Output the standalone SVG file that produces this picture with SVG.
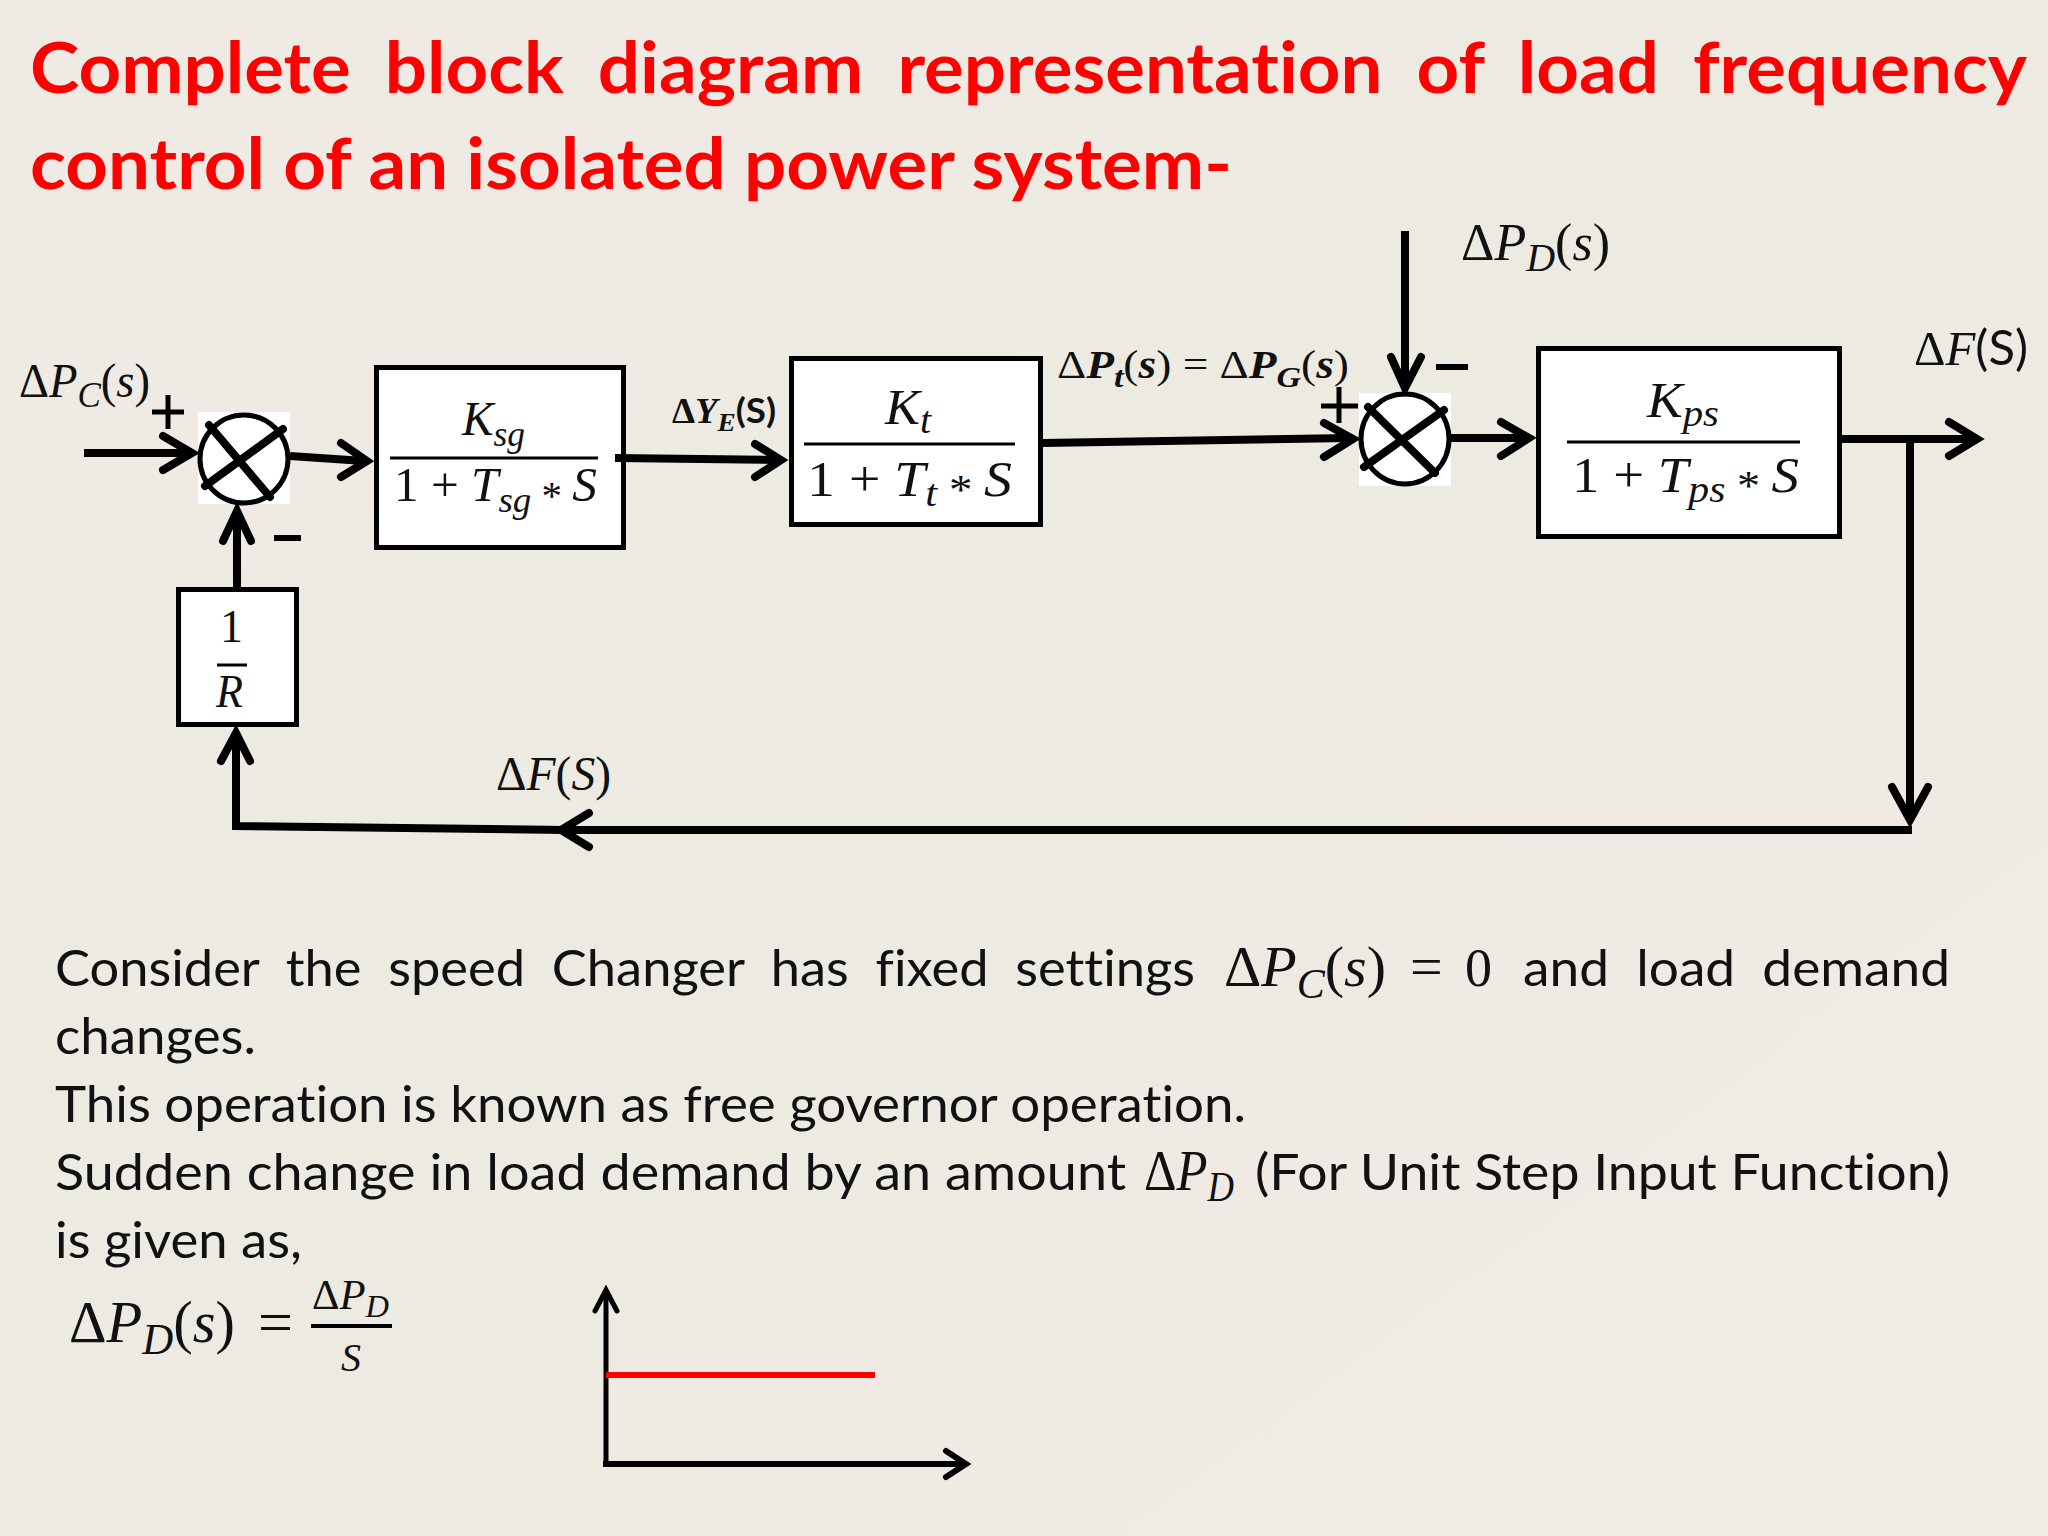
<svg xmlns="http://www.w3.org/2000/svg" width="2048" height="1536" viewBox="0 0 2048 1536">
<defs>
<linearGradient id="bg" x1="0" y1="0" x2="1" y2="1"><stop offset="0" stop-color="#efebe4"/><stop offset="0.5" stop-color="#edeae2"/><stop offset="1" stop-color="#f1ebe5"/></linearGradient>
</defs>
<style>
text{font-variant-ligatures:none}
.title{font-family:"Lato","Liberation Sans",sans-serif;font-weight:700;font-size:70px;fill:#fe0000}
.body{font-family:"Lato","Liberation Sans",sans-serif;font-size:51px;fill:#111}
.m{font-family:"Liberation Serif",serif;font-style:italic;fill:#111}
.mb{font-weight:700}
.up{font-style:normal}
.box{fill:#fff;stroke:#000;stroke-width:5}
.bar{stroke:#000;stroke-width:3;fill:none}
.sumbg{fill:#fff}
.sum{fill:none;stroke:#000;stroke-width:5}
.x{stroke:#000;stroke-width:8;stroke-linecap:round}
.w{fill:none;stroke:#000;stroke-width:8;stroke-linejoin:miter}
.h{fill:none;stroke:#000;stroke-width:8;stroke-linecap:round;stroke-linejoin:miter}
.sign{stroke:#000;stroke-width:5;fill:none}
</style>
<rect id="background" width="2048" height="1536" fill="url(#bg)"/>
<g id="title">
<text class="title" x="30" y="93" word-spacing="15" textLength="1997" lengthAdjust="spacingAndGlyphs">Complete block diagram representation of load frequency</text>
<text class="title" x="30" y="189" textLength="1202" lengthAdjust="spacingAndGlyphs">control of an isolated power system-</text>
</g>
<g id="node-sum1">
<rect class="sumbg" x="198" y="412" width="92" height="92"/>
<ellipse class="sum" cx="244" cy="459" rx="44" ry="44"/>
<line class="x" x1="209" y1="425" x2="270" y2="497"/><line class="x" x1="283" y1="429" x2="205" y2="486"/>
</g>
<g id="node-governor">
<rect class="box" x="376.5" y="367.5" width="247" height="180"/>
<text class="m" font-size="48" x="462" y="435" textLength="63" lengthAdjust="spacingAndGlyphs">K<tspan font-size="36" dy="11">sg</tspan></text>
<line class="bar" x1="390" y1="458" x2="598" y2="458"/>
<text class="m" font-size="48" x="394" y="501" textLength="203" lengthAdjust="spacingAndGlyphs"><tspan class="up">1 + </tspan>T<tspan font-size="36" dy="11">sg</tspan><tspan class="up" dy="-3" font-size="40"> * </tspan><tspan dy="-8">S</tspan></text>
</g>
<g id="node-turbine">
<rect class="box" x="791.5" y="358.5" width="249" height="166"/>
<text class="m" font-size="50" x="885" y="424" textLength="46" lengthAdjust="spacingAndGlyphs">K<tspan font-size="38" dy="9">t</tspan></text>
<line class="bar" x1="804" y1="444" x2="1015" y2="444"/>
<text class="m" font-size="50" x="807" y="496" textLength="205" lengthAdjust="spacingAndGlyphs"><tspan class="up">1 + </tspan>T<tspan font-size="38" dy="10">t</tspan><tspan class="up" dy="-2" font-size="42"> * </tspan><tspan dy="-8">S</tspan></text>
</g>
<g id="node-sum2">
<rect class="sumbg" x="1359" y="393" width="92" height="93"/>
<ellipse class="sum" cx="1405" cy="439" rx="44" ry="45"/>
<line class="x" x1="1368" y1="407" x2="1435" y2="473"/><line class="x" x1="1364" y1="467" x2="1444" y2="410"/>
</g>
<g id="node-power-system">
<rect class="box" x="1538.5" y="348.5" width="301" height="188"/>
<text class="m" font-size="50" x="1647" y="417" textLength="72" lengthAdjust="spacingAndGlyphs">K<tspan font-size="38" dy="9">ps</tspan></text>
<line class="bar" x1="1567" y1="442" x2="1800" y2="442"/>
<text class="m" font-size="50" x="1572" y="492" textLength="227" lengthAdjust="spacingAndGlyphs"><tspan class="up">1 + </tspan>T<tspan font-size="38" dy="10">ps</tspan><tspan class="up" dy="-2" font-size="42"> * </tspan><tspan dy="-8">S</tspan></text>
</g>
<g id="node-droop">
<rect class="box" x="178.5" y="589.5" width="118" height="135"/>
<text class="m up" font-size="46" x="220" y="642">1</text>
<line class="bar" x1="217" y1="665" x2="247" y2="665"/>
<text class="m" font-size="46" x="216" y="707" textLength="27" lengthAdjust="spacingAndGlyphs">R</text>
</g>
<g id="connectors">
<path class="w" d="M84 453H190"/><path class="h" d="M163 436L192 453L163 470"/>
<path class="w" d="M290 456L364 461"/><path class="h" d="M341 443L367 461L341 477"/>
<path class="w" d="M615 458L778 460"/><path class="h" d="M755 444L781 460L755 477"/>
<path class="w" d="M1043 443L1350 438"/><path class="h" d="M1324 423L1353 439L1324 457"/>
<path class="w" d="M1405 231V385"/><path class="h" d="M1391 357L1405 388L1421 357"/>
<path class="w" d="M1451 438H1526"/><path class="h" d="M1501 422L1529 438L1501 456"/>
<path class="w" d="M1842 439H1975"/><path class="h" d="M1949 422L1977 439L1949 456"/>
<path class="w" d="M1910 439V817"/><path class="h" d="M1892 787L1910 820L1928 787"/>
<path class="w" d="M1912 830H565"/><path class="h" d="M589 813L561 830L589 847"/>
<path class="w" d="M565 830L236 826V737"/><path class="h" d="M221 761L236 733L250 761"/>
<path class="w" d="M237 587V516"/><path class="h" d="M223 541L237 511L251 541"/>
</g>
<g id="labels">
<text class="m" font-size="48" x="19" y="397" textLength="131" lengthAdjust="spacingAndGlyphs"><tspan class="up">Δ</tspan>P<tspan font-size="36" dy="10">C</tspan><tspan class="up" dy="-10">(</tspan>s<tspan class="up">)</tspan></text>
<path class="sign" d="M152 412H184M168 395V429"/>
<path class="sign" style="stroke-width:6" d="M274 538H301"/>
<text class="m mb" font-size="35" x="672" y="423" textLength="104" lengthAdjust="spacingAndGlyphs"><tspan class="up">Δ</tspan>Y<tspan font-size="26" dy="8">E</tspan><tspan class="up" dy="-8" style="font-family:'Lato',sans-serif">(S)</tspan></text>
<text class="m" font-size="40" x="1057" y="378" textLength="292" lengthAdjust="spacingAndGlyphs"><tspan class="up">Δ</tspan><tspan class="mb">P</tspan><tspan class="mb" font-size="30" dy="9">t</tspan><tspan class="up" dy="-9">(</tspan><tspan class="mb">s</tspan><tspan class="up">) = Δ</tspan><tspan class="mb">P</tspan><tspan class="mb" font-size="30" dy="9">G</tspan><tspan class="up" dy="-9">(</tspan><tspan class="mb">s</tspan><tspan class="up">)</tspan></text>
<text class="m" font-size="52" x="1461" y="260" textLength="149" lengthAdjust="spacingAndGlyphs"><tspan class="up">Δ</tspan>P<tspan font-size="40" dy="11">D</tspan><tspan class="up" dy="-11">(</tspan>s<tspan class="up">)</tspan></text>
<path class="sign" style="stroke-width:6" d="M1436 367H1468"/>
<path class="sign" d="M1321 406H1358M1339 387V423"/>
<text class="m" font-size="48" x="1914" y="365" textLength="114" lengthAdjust="spacingAndGlyphs"><tspan class="up">Δ</tspan>F<tspan class="up" style="font-family:'Lato',sans-serif">(S)</tspan></text>
<text class="m" font-size="48" x="496" y="790" textLength="115" lengthAdjust="spacingAndGlyphs"><tspan class="up">Δ</tspan>F<tspan class="up">(</tspan>S<tspan class="up">)</tspan></text>
</g>
<g id="text-block">
<text class="body" x="55" y="986" word-spacing="13" textLength="1140" lengthAdjust="spacingAndGlyphs">Consider the speed Changer has fixed settings</text>
<text class="m" font-size="58" x="1224" y="986" textLength="162" lengthAdjust="spacingAndGlyphs"><tspan class="up">Δ</tspan>P<tspan font-size="42" dy="12">C</tspan><tspan class="up" dy="-12">(</tspan>s<tspan class="up">)</tspan></text>
<text class="m up" font-size="58" x="1410" y="986">=</text>
<text class="m up" font-size="54" x="1465" y="986">0</text>
<text class="body" x="1523" y="986" word-spacing="13" textLength="427" lengthAdjust="spacingAndGlyphs">and load demand</text>
<text class="body" x="55" y="1054" textLength="201" lengthAdjust="spacingAndGlyphs">changes.</text>
<text class="body" x="55" y="1122" textLength="1191" lengthAdjust="spacingAndGlyphs">This operation is known as free governor operation.</text>
<text class="body" x="55" y="1190" textLength="1071" lengthAdjust="spacingAndGlyphs">Sudden change in load demand by an amount</text>
<text class="m" font-size="58" x="1144" y="1190" textLength="90" lengthAdjust="spacingAndGlyphs"><tspan class="up">Δ</tspan>P<tspan font-size="42" dy="11">D</tspan></text>
<text class="body" x="1255" y="1190" textLength="695" lengthAdjust="spacingAndGlyphs">(For Unit Step Input Function)</text>
<text class="body" x="55" y="1258" textLength="247" lengthAdjust="spacingAndGlyphs">is given as,</text>
</g>
<g id="equation">
<text class="m" font-size="60" x="69" y="1342" textLength="166" lengthAdjust="spacingAndGlyphs"><tspan class="up">Δ</tspan>P<tspan font-size="44" dy="12">D</tspan><tspan class="up" dy="-12">(</tspan>s<tspan class="up">)</tspan></text>
<text class="m up" font-size="60" x="258" y="1342" textLength="35" lengthAdjust="spacingAndGlyphs">=</text>
<text class="m" font-size="42" x="312" y="1309" textLength="77" lengthAdjust="spacingAndGlyphs"><tspan class="up">Δ</tspan>P<tspan font-size="32" dy="8">D</tspan></text>
<line class="bar" style="stroke-width:4" x1="311" y1="1326" x2="392" y2="1326"/>
<text class="m" font-size="40" x="341" y="1371">S</text>
</g>
<g id="step-plot">
<path fill="none" stroke="#000" stroke-width="5" d="M606 1467V1294"/>
<path class="h" style="stroke-width:5" d="M595 1311L606 1290L617 1311"/>
<path fill="none" stroke="#000" stroke-width="6" d="M603 1464H962"/>
<path class="h" style="stroke-width:6" d="M946 1451L966 1464L946 1477"/>
<path fill="none" stroke="#fe0000" stroke-width="6" d="M606 1375H875"/>
</g>
</svg>
